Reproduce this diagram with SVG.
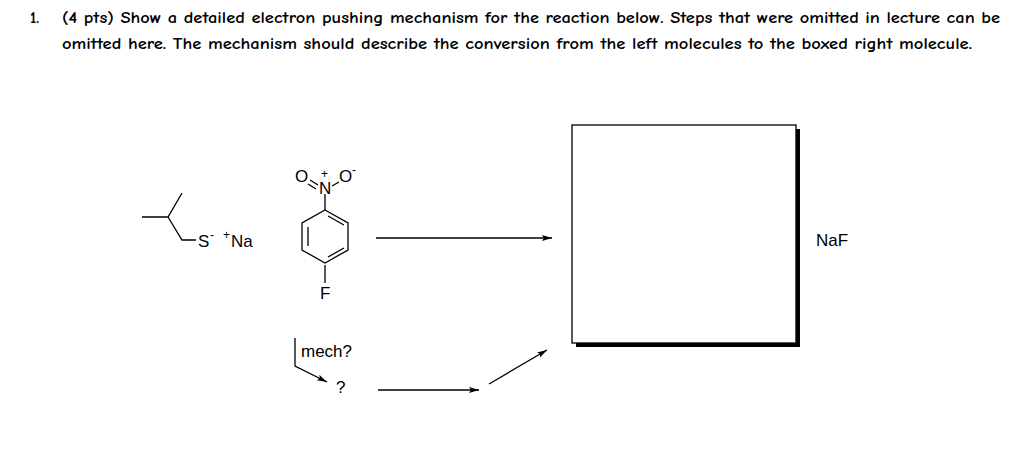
<svg xmlns="http://www.w3.org/2000/svg" width="1024" height="450" viewBox="0 0 1024 450">
<style>
.t{font-family:"Comic Neue","DejaVu Sans",sans-serif;font-size:16px;fill:#000;font-weight:bold}
.c{font-family:"Liberation Sans",Arial,sans-serif;font-size:17px;fill:#000}
.s{font-family:"Liberation Sans",Arial,sans-serif;font-size:12px;fill:#000}
.b{stroke:#000;stroke-width:1.3;fill:none}
</style>
<defs><marker id="ah" viewBox="0 0 10 6" refX="10" refY="3" markerWidth="10" markerHeight="6" markerUnits="userSpaceOnUse" orient="auto"><path d="M0,0L10,3L0,6L2,3Z" fill="#000"/></marker></defs>
<rect width="1024" height="450" fill="#fff"/>
<g id="title">
<text class="t" x="30" y="23">1.</text>
<text class="t" x="62" y="23" textLength="938" lengthAdjust="spacingAndGlyphs">(4 pts)  Show a detailed electron pushing mechanism for the reaction below.   Steps that were omitted in lecture can be</text>
<text class="t" x="62" y="49" textLength="910" lengthAdjust="spacingAndGlyphs">omitted here.    The mechanism should describe the conversion from the left molecules to the boxed right molecule.</text>
</g>
<g id="thiolate">
<path class="b" d="M142,217H168L182,193M168,217L182,240H196"/>
<text class="c" x="198" y="247">S</text><text class="s" x="210" y="239">-</text>
<text class="s" x="223" y="239">+</text><text class="c" x="231" y="247">Na</text>
</g>
<g id="nitroarene">
<path class="b" d="M325,210L348,223V250L325,263L302,250V223Z"/>
<path class="b" d="M308,227V246M328,257L344,248M328,216L344,225"/>
<path class="b" d="M325,194V210M325,265V283"/>
<path class="b" d="M310,180L318,185M308,184L316,189M332,186L339,182"/>
<text class="c" x="295" y="182" font-size="16">O</text>
<text class="c" x="319" y="194" font-size="16">N</text>
<text class="s" x="321" y="178">+</text>
<text class="c" x="339" y="182" font-size="16">O</text>
<text class="s" x="352" y="174">-</text>
<text class="c" x="320" y="299" font-size="16">F</text>
</g>
<g id="product-box">
<rect x="576" y="129" width="224" height="218" fill="#000"/>
<rect x="572" y="125" width="224" height="218" fill="#fff" stroke="#000" stroke-width="1.3"/>
</g>
<g id="naf"><text class="c" x="816" y="246">NaF</text></g>
<g id="mech">
<text class="c" x="301" y="357">mech?</text>
<text class="c" x="336" y="393">?</text>
</g>
<g id="connectors">
<line class="b" x1="376" y1="238" x2="552" y2="238" marker-end="url(#ah)"/>
<path class="b" d="M295,338V366L327,382" marker-end="url(#ah)"/>
<line class="b" x1="378" y1="390" x2="479" y2="390" marker-end="url(#ah)"/>
<line class="b" x1="489" y1="384" x2="547" y2="350" marker-end="url(#ah)"/>
</g>
</svg>
